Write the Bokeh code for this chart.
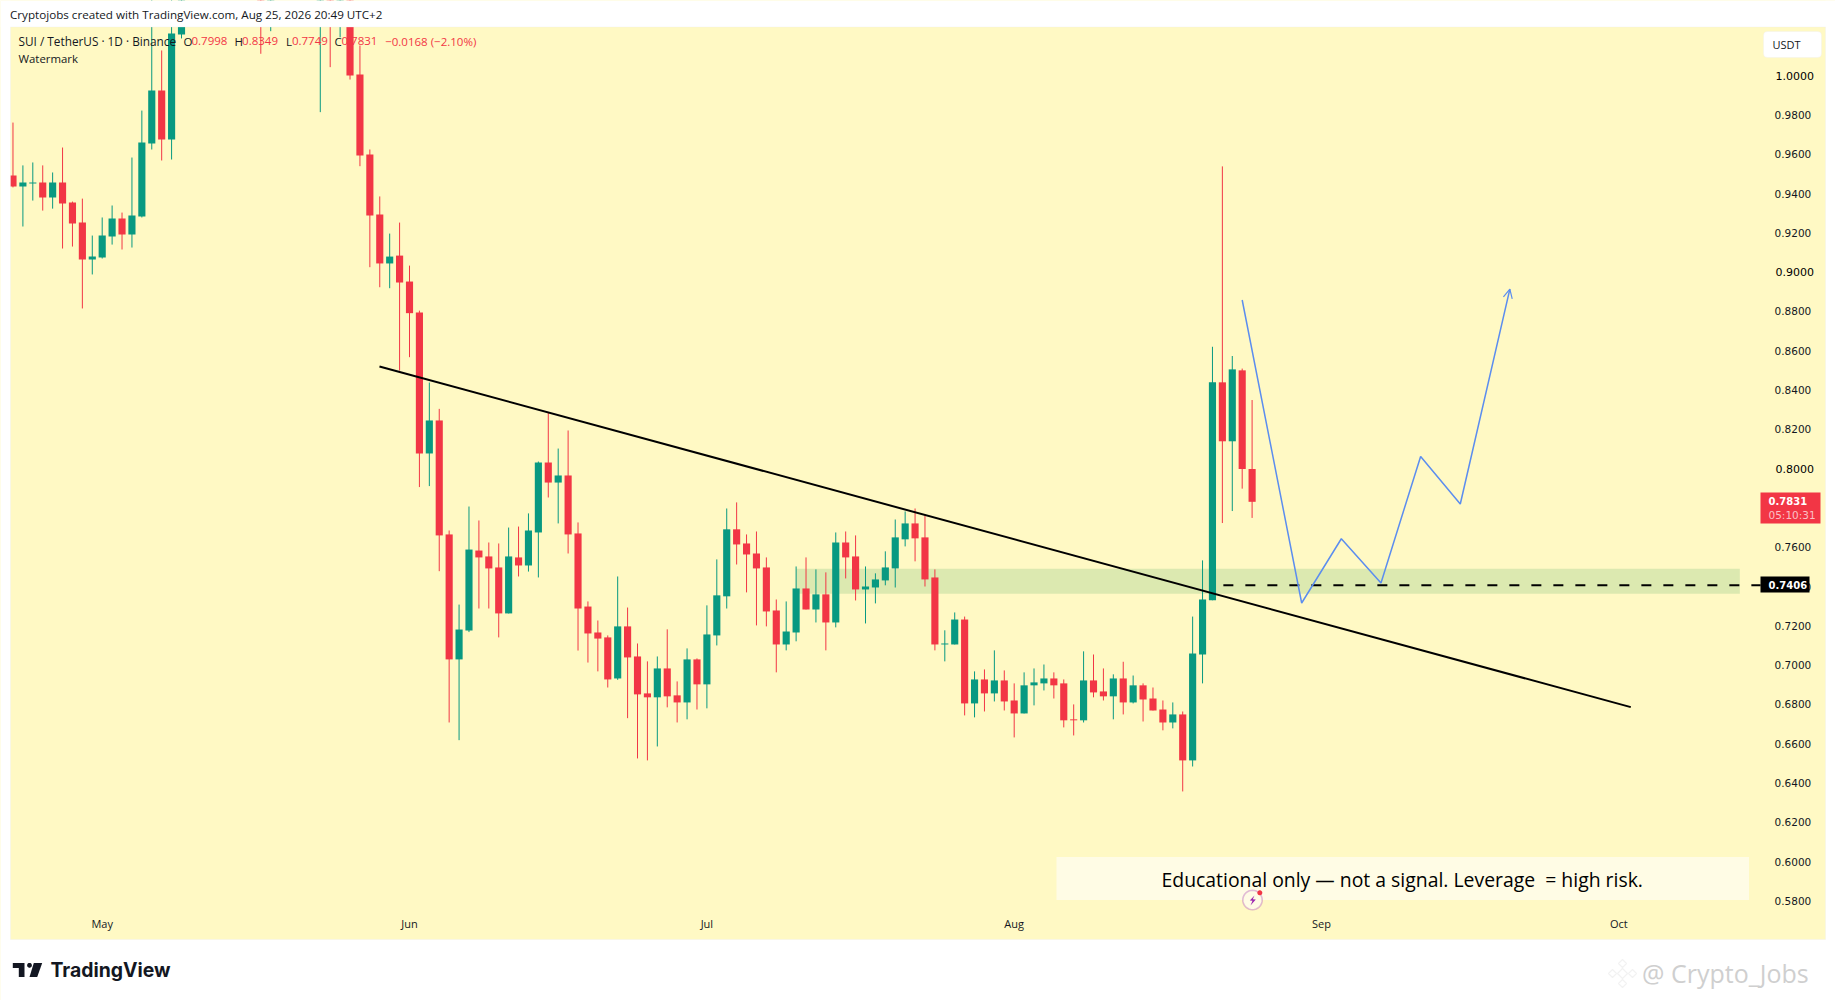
import math
from bokeh.plotting import figure
from bokeh.models import (Range1d, LinearAxis, FixedTicker, NumeralTickFormatter, Label, BoxAnnotation,
                          PolyAnnotation, Arrow, OpenHead)
from bokeh.embed import file_html
from bokeh.resources import INLINE

# Daily candles: day number counted from May 1 (days lying entirely above the visible range are left out)
days = [-9,-8,-7,-6,-5,-4,-3,-2,-1,0,1,2,3,4,5,6,7,8,16,17,22,23,24,25,26,27,28,29,30,31,32,33,34,35,36,37,38,39,40,
        41,42,43,44,45,46,47,48,49,50,51,52,53,54,55,56,57,58,59,60,61,62,63,64,65,66,67,68,69,70,71,72,73,74,75,76,
        77,78,79,80,81,82,83,84,85,86,87,88,89,90,91,92,93,94,95,96,97,98,99,100,101,102,103,104,105,106,107,108,109,
        110,111,112,113,114,115,116]
opens = [.9492,.9436,.9451,.9456,.9380,.9456,.9354,.9252,.9064,.9074,.9181,.9273,.9191,.9283,.9654,.9924,.9675,1.0209,
         1.06,1.05,1.07,1.09,1.05,1.06,1.0005,.9598,.9293,.9044,.9084,.8952,.8794,.8077,.8245,.7665,.7029,.7176,.7583,
         .7553,.7497,.7263,.7548,.7507,.7675,.8031,.7929,.7965,.7670,.7298,.7166,.7141,.6932,.7197,.7044,.6856,.6836,
         .6983,.6846,.6810,.7029,.6902,.7151,.7350,.7691,.7619,.7568,.7497,.7278,.7105,.7166,.7390,.7283,.7360,.7217,
         .7624,.7553,.7385,.7395,.7431,.7492,.7640,.7721,.7650,.7446,.7105,.7105,.7232,.6805,.6927,.6856,.6922,.6820,
         .6754,.6897,.6907,.6932,.6907,.6724,.6719,.6922,.6866,.6841,.6932,.6810,.6897,.6830,.6774,.6708,.6749,.6515,
         .7054,.7330,.8439,.8139,.8500,.7998]
highs = [.9761,.9543,.9558,.9543,.9507,.9634,.9359,.9374,.9186,.9278,.9339,.9303,.9583,.9822,1.05,1.0128,1.05,1.06,
         1.08,1.08,1.10,1.10,1.08,1.07,1.0153,.9624,.9385,.9196,.9252,.9033,.8804,.8438,.8304,.7685,.7308,.7807,.7736,
         .7624,.7619,.7700,.7705,.7772,.8036,.8286,.8102,.8194,.7726,.7324,.7227,.7151,.7451,.7293,.7110,.7019,.7044,
         .7182,.6917,.7085,.7034,.7304,.7538,.7797,.7828,.7665,.7680,.7548,.7334,.7324,.7502,.7548,.7487,.7472,.7675,
         .7680,.7660,.7502,.7467,.7579,.7741,.7782,.7797,.7762,.7487,.7177,.7268,.7247,.6968,.6978,.7075,.6973,.6907,
         .6963,.6983,.7003,.6963,.6927,.6800,.7070,.7054,.6983,.6953,.7017,.6947,.6907,.6886,.6820,.6810,.6764,.7247,
         .7533,.8620,.9538,.8573,.8509,.8349]
lows = [.9431,.9232,.9364,.9313,.9323,.9120,.9130,.8815,.8988,.9069,.9140,.9115,.9125,.9278,.9624,.9568,.9573,1.0189,
        1.0111,1.0226,.9814,1.0043,1.0195,.9980,.9539,.9025,.8923,.8918,.8499,.8567,.7906,.7911,.7478,.6708,.6618,.7168,
        .7288,.7288,.7141,.7263,.7451,.7476,.7446,.7853,.7721,.7568,.7074,.7013,.6968,.6886,.6925,.6730,.6525,.6515,.6586,
        .6785,.6708,.6724,.6774,.6780,.7100,.7288,.7512,.7370,.7202,.7197,.6963,.7075,.7121,.7283,.7217,.7075,.7192,
        .7441,.7329,.7212,.7314,.7406,.7395,.7604,.7528,.7400,.7075,.7019,.7105,.6744,.6734,.6764,.6815,.6769,.6632,
        .6754,.6795,.6871,.6830,.6683,.6642,.6708,.6836,.6820,.6724,.6749,.6805,.6713,.6769,.6668,.6678,.6357,.6484,
        .6907,.7330,.7723,.7784,.7898,.7749]
closes = [.9436,.9456,.9456,.9380,.9456,.9349,.9247,.9064,.9079,.9186,.9273,.9191,.9288,.9659,.9924,.9675,1.0214,1.04,
          1.04,1.07,1.09,1.06,1.07,1.0000,.9593,.9288,.9044,.9079,.8947,.8791,.8077,.8245,.7660,.7029,.7181,.7588,.7548,
          .7492,.7263,.7553,.7507,.7685,.8031,.7929,.7965,.7665,.7288,.7161,.7135,.6927,.7197,.7039,.6851,.6836,.6983,
          .6841,.6810,.7029,.6902,.7156,.7355,.7691,.7614,.7563,.7492,.7273,.7105,.7171,.7390,.7283,.7360,.7217,.7624,
          .7548,.7385,.7400,.7436,.7497,.7650,.7721,.7645,.7436,.7105,.7110,.7232,.6805,.6927,.6856,.6922,.6815,.6754,
          .6897,.6912,.6932,.6897,.6719,.6719,.6922,.6861,.6841,.6932,.6810,.6897,.6825,.6769,.6708,.6749,.6515,.7059,
          .7334,.8439,.8139,.8505,.7998,.7831]

# Drawings
trend_days = [27.97, 154.2]
trend_prices = [.8520, .6786]
path_days = [115, 121, 125, 129, 133, 137, 142]
path_prices = [.8858, .7316, .7643, .7418, .8062, .7820, .8913]
zone_start_day = 70
zone_end_day = 165.2
zone_top = .7490
zone_bottom = .7363
level_price = .7406
level_days = [113.1, 167.3]

# Axes
price_ticks = [.58,.60,.62,.64,.66,.68,.70,.72,.74,.76,.78,.82,.84,.86,.88,.92,.94,.96,.98]
round_price_ticks = [.80, .90, 1.00]
month_days = [0, 31, 61, 92, 123, 153]
month_names = ["May", "Jun", "Jul", "Aug", "Sep", "Oct"]

GREEN, RED, CREAM, INK = "#089981", "#F23645", "#FFF9C4", "#131722"
FONT = "Open Sans"

W, H = 1835, 1000
PX_PER_DAY, X_MAY1 = 9.913, 101.7
Y_K, Y_C = 1965.0, 1.03822

p = figure(width=W, height=H, output_backend="svg", toolbar_location=None,
           x_range=Range1d((0 - X_MAY1) / PX_PER_DAY, (W - X_MAY1) / PX_PER_DAY),
           y_range=Range1d(Y_C - H / Y_K, Y_C),
           min_border_left=0, min_border_right=0, min_border_top=0, min_border_bottom=0,
           background_fill_color=CREAM, border_fill_color="#FFFFFF", outline_line_color=None,
           x_axis_location=None, y_axis_location=None)
p.grid.visible = False


def box(l, r, t, b, color, line=None, radius=0):
    p.add_layout(BoxAnnotation(left=l, right=r, top=H - t, bottom=H - b, left_units="screen", right_units="screen",
                               top_units="screen", bottom_units="screen", fill_color=color, fill_alpha=1,
                               line_color=line, border_radius=radius, editable=False))


def label(x, y, txt, color=INK, size=12, style="normal", font=FONT, alpha=1.0):
    p.add_layout(Label(x=x, y=H - y, x_units="screen", y_units="screen", text=txt, text_color=color,
                       text_font_size=f"{size}px", text_font_style=style, text_font=font, text_alpha=alpha,
                       text_baseline="middle", text_align="left"))


def poly(xs, ys, fill=None, line=None, width=1):
    p.add_layout(PolyAnnotation(xs=list(xs), ys=[H - v for v in ys], xs_units="screen", ys_units="screen",
                                fill_color=fill, fill_alpha=1 if fill else 0, line_color=line, line_width=width,
                                editable=False))


def disc(cx, cy, r, fill=None, line=None, width=1):
    angles = [2 * math.pi * i / 32 for i in range(32)]
    poly([cx + r * math.cos(a) for a in angles], [cy + r * math.sin(a) for a in angles], fill, line, width)


AXIS_X_DAY = (1760 - X_MAY1) / PX_PER_DAY
AXIS_Y_PRICE = Y_C - 903 / Y_K

xaxis = LinearAxis(ticker=FixedTicker(ticks=month_days), fixed_location=AXIS_Y_PRICE,
                   major_label_overrides={d: n for d, n in zip(month_days, month_names)},
                   axis_line_color=None, major_tick_line_color=None, minor_tick_line_color=None,
                   major_label_text_font=FONT, major_label_text_font_size="11px", major_label_text_color=INK,
                   major_label_standoff=6)
p.add_layout(xaxis, "below")
yaxis = LinearAxis(ticker=FixedTicker(ticks=price_ticks), formatter=NumeralTickFormatter(format="0.0000"),
                   fixed_location=AXIS_X_DAY,
                   axis_line_color=None, major_tick_line_color=None, minor_tick_line_color=None,
                   major_label_text_font="DejaVu Sans", major_label_text_font_size="10.5px",
                   major_label_text_color=INK, major_label_standoff=8)
p.add_layout(yaxis, "right")
yaxis2 = LinearAxis(ticker=FixedTicker(ticks=round_price_ticks), formatter=NumeralTickFormatter(format="0.0000"),
                    fixed_location=AXIS_X_DAY,
                    axis_line_color=None, major_tick_line_color=None, minor_tick_line_color=None,
                    major_label_text_font="DejaVu Sans", major_label_text_font_size="11px",
                    major_label_text_color="#000000", major_label_standoff=9)
p.add_layout(yaxis2, "right")

# zone, candles, drawings
p.quad(left=[zone_start_day], right=[zone_end_day], top=[zone_top], bottom=[zone_bottom],
       fill_color="#DCE9B0", line_color=None)
colors = [GREEN if c >= o else RED for o, c in zip(opens, closes)]
p.segment(x0=days, x1=days, y0=lows, y1=highs, line_color=colors, line_width=1)
p.vbar(x=days, width=0.72, top=[max(o, c) for o, c in zip(opens, closes)],
       bottom=[min(o, c) for o, c in zip(opens, closes)], fill_color=colors, line_color=None)
p.line(trend_days, trend_prices, line_color="#000000", line_width=2)
p.line(level_days, [level_price, level_price], line_color="#000000", line_width=2, line_dash="10 12")
p.line(path_days, path_prices, line_color="#5B8DEF", line_width=1.5)
p.add_layout(Arrow(end=OpenHead(size=9, line_color="#5B8DEF", line_width=1.2), line_alpha=0,
                   x_start=path_days[-2], y_start=path_prices[-2], x_end=path_days[-1], y_end=path_prices[-1]))

# page margins around the chart panel
box(0, W, 0, 26.5, "#FFFFFF")
box(0, W, 939, H, "#FFFFFF")
box(0, 10, 0, H, "#FFFFFF")
box(1825, W, 0, H, "#FFFFFF")
p.add_layout(BoxAnnotation(left=10, right=1825, top=H - 26.5, bottom=H - 939, left_units="screen", right_units="screen",
                           top_units="screen", bottom_units="screen", fill_alpha=0, line_color="#ECECEC",
                           line_width=1, editable=False))

# header and legend
label(9.5, 14, "Cryptojobs created with TradingView.com, Aug 25, 2026 20:49 UTC+2", size=11.65)
label(18, 40.5, "SUI / TetherUS · 1D · Binance", size=11.8)
label(18, 57.5, "Watermark", size=11.4)
for x, t in [(183, "O"), (234, "H"), (285.5, "L"), (334, "C")]:
    label(x, 40.5, t, size=11.5)
for x, t in [(191, "0.7998"), (241.6, "0.8349"), (291.4, "0.7749"), (341, "0.7831"), (384.7, "−0.0168 (−2.10%)")]:
    label(x, 40.5, t, color=RED, size=11.5)

# price-scale furniture
box(1763, 1821, 31, 57, "#FFFFFF", line="#ECECEC", radius=4)
label(1772, 44, "USDT", size=11)
box(1760, 1820, 492, 523, RED)
label(1768, 500.5, "0.7831", color="#FFFFFF", size=10, style="bold", font="DejaVu Sans")
label(1768, 514.5, "05:10:31", color="#FFFFFF", size=10.5, font="DejaVu Sans", alpha=0.7)
box(1760, 1809, 576, 592, "#000000")
label(1768, 584, "0.7406", color="#FFFFFF", size=10, style="bold", font="DejaVu Sans")

# notice
box(1056, 1748.5, 856.5, 899.5, "#FFFCE5")
label(1161, 879, "Educational only — not a signal. Leverage\u00a0 = high risk.", color="#000000", size=19.4)

# news marker
disc(1252, 899.5, 9.7, fill="#FFFCE5", line="#9C27B0", width=1.6)
poly([1254, 1249.3, 1252, 1250, 1255.3, 1252.3], [895, 900, 900.3, 905, 899, 898.7], fill="#9C27B0")
disc(1259.3, 892.3, 2.5, fill=RED)

# footer
poly([12.3, 24, 24, 18.3, 18.3, 12.3], [962.5, 962.5, 976.5, 976.5, 967.5, 967.5], fill="#131722")
disc(29, 964.8, 2.4, fill="#131722")
poly([33.3, 41.7, 36.7, 29], [962.5, 962.5, 976.5, 976.5], fill="#131722")
label(50, 969, "TradingView", size=19.4, style="bold", font="Inter")
label(1641.6, 972, "@ Crypto_Jobs", color="#CFCFCF", size=25)
for cx, cy, r in [(1622, 973, 5), (1622, 963, 4), (1622, 983, 4), (1612, 973, 4), (1632, 973, 4)]:
    poly([cx - r, cx, cx + r, cx], [cy, cy - r, cy, cy + r], line="#D5D5D5", width=1.2)

open("out.html", "w").write(file_html(p, INLINE))
